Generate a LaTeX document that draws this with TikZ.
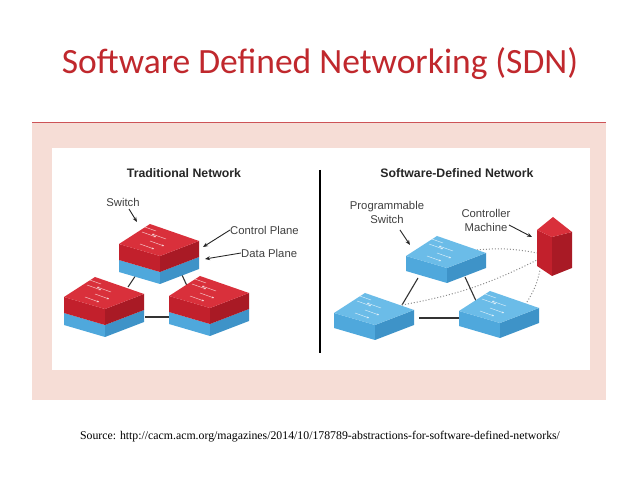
\documentclass[tikz,border=0pt]{standalone}
\usepackage{fontspec}
\setmainfont{Liberation Sans}
\newfontfamily\titlefont{Carlito}
\newfontfamily\srcfont{Liberation Serif}
\usetikzlibrary{arrows.meta}
\definecolor{ttl}{HTML}{C0282D}
\definecolor{panel}{HTML}{F6DDD6}
\definecolor{rtop}{HTML}{D9303B}
\definecolor{rleft}{HTML}{C2202C}
\definecolor{rright}{HTML}{A91A25}
\definecolor{btop}{HTML}{6BBCE8}
\definecolor{bleft}{HTML}{4FA8DC}
\definecolor{bright}{HTML}{3E93C8}
\tikzset{
 lbl/.style={font=\fontsize{11.3}{14}\selectfont, text=black!75, inner sep=0pt},
 hdr/.style={font=\bfseries\fontsize{12.3}{13}\selectfont, text=black!85, inner sep=0pt},
 ptr/.style={-{Stealth[length=5pt,width=4pt]}, line width=0.9pt, black!85},
 link/.style={line width=1.1pt, black!80},
 dot/.style={dotted, line width=1pt, black!45}
}
\newcommand\swlayer[6]{%
 \begin{scope}[shift={(#1,#2)}]
  \fill[#4] (-41,-12) -- (0,0) -- (0,#6) -- (-41,-12+#6) -- cycle;
  \fill[#5] (0,0) -- (39,-15) -- (39,-15+#6) -- (0,#6) -- cycle;
 \end{scope}}
\newcommand\swtop[3]{%
 \begin{scope}[shift={(#1,#2)}]
  \fill[#3] (-41,-12) -- (-10,-32) -- (39,-15) -- (0,0) -- cycle;
  \draw[white, line width=0.5pt, opacity=0.7, -{Stealth[length=2pt,width=2pt]}] (-18,-24) -- (-4,-19);
  \draw[white, line width=0.5pt, opacity=0.7, -{Stealth[length=2pt,width=2pt]}] (-4,-25) -- (-18,-30);
  \draw[white, line width=0.5pt, opacity=0.7, -{Stealth[length=2pt,width=2pt]}] (-10,-15) -- (4,-10);
  \draw[white, line width=0.5pt, opacity=0.7, -{Stealth[length=2pt,width=2pt]}] (6,-17) -- (-8,-22);
  \draw[white, line width=0.5pt, opacity=0.7, -{Stealth[length=2pt,width=2pt]}] (-20,-12) -- (-6,-7);
 \end{scope}}
\newcommand\tradsw[2]{%
 \swlayer{#1}{#2+16}{btop}{bleft}{bright}{12}%
 \swlayer{#1}{#2}{rtop}{rleft}{rright}{16}%
 \swtop{#1}{#2}{rtop}}
\newcommand\sdnsw[2]{%
 \swlayer{#1}{#2}{btop}{bleft}{bright}{15}%
 \swtop{#1}{#2}{btop}}
\begin{document}
\begin{tikzpicture}[x=1pt,y=-1pt]
\useasboundingbox (0,0) rectangle (638,478);
\fill[white] (0,0) rectangle (638,478);
\node[font=\titlefont\fontsize{35.5}{38}\selectfont, text=ttl] (title) at (320,64) {Software Defined Networking (SDN)};
\fill[panel] (32,122) rectangle (606,400);
\draw[ttl!80, line width=0.8pt] (32,122) -- (606,122);
\fill[white] (52,148) rectangle (590,370);
\draw[black, line width=1.6pt] (320,170) -- (320,353);
\node[font=\srcfont\fontsize{11.8}{13}\selectfont] (src) at (320,437) {Source: http://cacm.acm.org/magazines/2014/10/178789-abstractions-for-software-defined-networks/};

% Traditional
\node[hdr] (h1) at (184,173) {Traditional Network};
\coordinate (t1a) at (128,287); \coordinate (t1b) at (136,275);
\coordinate (t2a) at (182,275); \coordinate (t2b) at (188,288);
\coordinate (t3a) at (145,317); \coordinate (t3b) at (170,317);
\draw[link] (t1a) -- (t1b); \draw[link] (t2a) -- (t2b); \draw[link] (t3a) -- (t3b);
\tradsw{160}{256}
\tradsw{105}{309}
\tradsw{210}{308}
\node[lbl] (lsw) at (123,202) {Switch};
\coordinate (lswt) at (137,222);
\draw[ptr] (129,209) -- (lswt);
\node[lbl, anchor=west] (lcp) at (230,230) {Control Plane};
\coordinate (cpt) at (203,247);
\draw[ptr] (lcp.west) -- (cpt);
\node[lbl, anchor=west] (ldp) at (241,253) {Data Plane};
\coordinate (dpt) at (205,259);
\draw[ptr] (ldp.west) -- (dpt);

% SDN
\node[hdr] (h2) at (457,173) {Software-Defined Network};
\coordinate (s1a) at (418,278); \coordinate (s1b) at (402,305);
\coordinate (s2a) at (465,277); \coordinate (s2b) at (477,303);
\coordinate (s3a) at (419,318); \coordinate (s3b) at (460,318);
\draw[link] (s1a) -- (s1b); \draw[link] (s2a) -- (s2b); \draw[link] (s3a) -- (s3b);
\coordinate (d1a) at (477,250); \coordinate (d1b) at (537,253);
\coordinate (d2a) at (402,305); \coordinate (d2b) at (537,260);
\coordinate (d3a) at (527,302); \coordinate (d3b) at (540,270);
\draw[dot] (d1a) to[bend left=8] (d1b);
\draw[dot] (d2a) to[bend right=8] (d2b);
\draw[dot] (d3a) to[bend right=10] (d3b);
\sdnsw{447}{268}
\sdnsw{375}{325}
\sdnsw{500}{323}
% controller
\fill[rleft] (537,230) -- (552,237) -- (552,276) -- (537,266) -- cycle;
\fill[rright] (552,237) -- (572,232) -- (572,268) -- (552,276) -- cycle;
\fill[rtop] (537,230) -- (553,217) -- (572,232) -- (552,237) -- cycle;
\node[lbl, align=center] (lps) at (387,212) {Programmable\\Switch};
\coordinate (pst) at (410,245);
\draw[ptr] (400,230) -- (pst);
\node[lbl, align=center] (lcm) at (486,220) {Controller\\Machine};
\coordinate (cmt) at (532,237);
\draw[ptr] (509,225) -- (cmt);
\end{tikzpicture}
\end{document}
